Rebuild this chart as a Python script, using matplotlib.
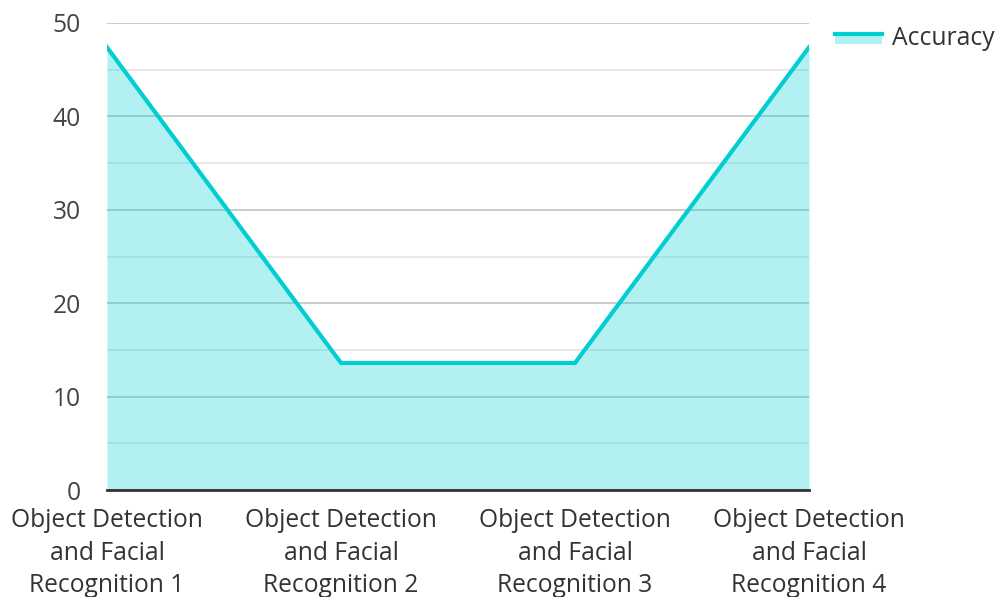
import matplotlib
matplotlib.use("Agg")
import matplotlib.pyplot as plt
from matplotlib.patches import Rectangle
from matplotlib.lines import Line2D
from matplotlib.legend_handler import HandlerBase

categories = ["Object Detection\nand Facial\nRecognition 1",
              "Object Detection\nand Facial\nRecognition 2",
              "Object Detection\nand Facial\nRecognition 3",
              "Object Detection\nand Facial\nRecognition 4"]
accuracy = [47.4, 13.6, 13.6, 47.4]
yticks = [0, 10, 20, 30, 40, 50]
minor_yticks = [5, 15, 25, 35, 45]

plt.rcParams['font.family'] = ['Open Sans', 'Noto Sans', 'DejaVu Sans']
FS = 17.7

fig = plt.figure(figsize=(9.99, 5.97), dpi=100)
ax = fig.add_axes([107/999, 1-490/597, (809-107)/999, (490-23)/597])

x = list(range(len(categories)))
line_color = "#00CED1"
ax.fill_between(x, accuracy, 0, color=line_color, alpha=0.3, linewidth=0, zorder=3)
ax.plot(x, accuracy, color=line_color, linewidth=3, zorder=4, solid_joinstyle='miter')

ax.set_xlim(0, len(categories)-1)
ax.set_ylim(0, 50)
ax.set_yticks(yticks)
ax.set_yticks(minor_yticks, minor=True)
ax.set_xticks(x)
ax.set_xticklabels(categories)
ax.grid(axis='y', which='major', color='#c8c8c8', linewidth=1.3, zorder=1)
ax.grid(axis='y', which='minor', color='#e6e6e6', linewidth=1.3, zorder=1)
ax.set_axisbelow(True)
for s in ['top', 'right', 'left']:
    ax.spines[s].set_visible(False)
ax.spines['bottom'].set_color('#333333')
ax.spines['bottom'].set_linewidth(2)
ax.spines['bottom'].set_zorder(5)
ax.tick_params(axis='both', which='both', length=0)
ax.tick_params(axis='y', pad=19, labelsize=FS, labelcolor='#444444')
ax.tick_params(axis='x', pad=13, labelsize=FS, labelcolor='#333333')
for lbl in ax.get_xticklabels():
    lbl.set_linespacing(1.4)
    lbl.set_clip_on(False)


class AreaHandler(HandlerBase):
    def create_artists(self, legend, orig_handle, xdescent, ydescent,
                       width, height, fontsize, trans):
        ly = -ydescent + 0.62 * height
        rect = Rectangle((-xdescent, ly - 0.55 * height), width, 0.55 * height,
                         facecolor=line_color, alpha=0.3, linewidth=0,
                         transform=trans)
        ln = Line2D([-xdescent, -xdescent + width], [ly, ly], color=line_color,
                    linewidth=3, transform=trans)
        return [rect, ln]


handle = Line2D([], [], color=line_color)
leg = fig.legend([handle], ["Accuracy"], loc='upper left',
                 bbox_to_anchor=(835/999, 1-26/597), frameon=False,
                 fontsize=FS, handlelength=1.9, handletextpad=0.4,
                 borderpad=0, borderaxespad=0,
                 handler_map={Line2D: AreaHandler()})
for t in leg.get_texts():
    t.set_color('#333333')

fig.savefig("out.png", dpi=100)
